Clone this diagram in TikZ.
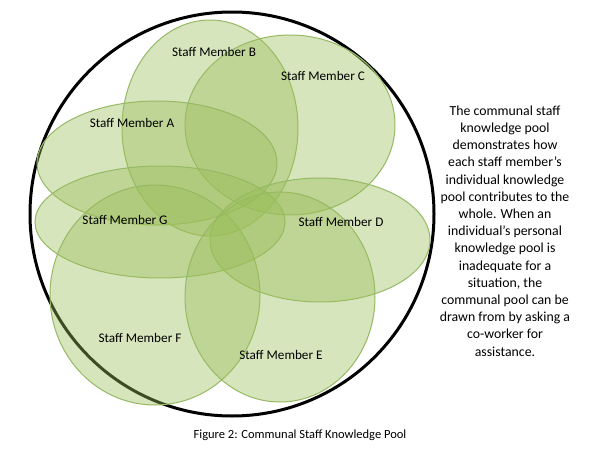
\documentclass[tikz,border=0pt]{standalone}
\usepackage{fontspec}
\setmainfont{Carlito}
\begin{document}
\begin{tikzpicture}[x=1pt,y=-1pt,
  pool/.style={fill={rgb,255:red,155;green,190;blue,90},fill opacity=0.4,draw={rgb,255:red,150;green,185;blue,100},line width=1pt},
  lbl/.style={font=\fontsize{13.2}{15}\selectfont,text=black}]
\useasboundingbox (0,0) rectangle (600,450);
\fill[white] (0,0) rectangle (600,450);
\node[draw=black,line width=3pt,circle,minimum size=404pt,inner sep=0pt] (pool) at (232,214) {};
\fill[pool] (210,128) ellipse [x radius=88,y radius=108];
\fill[pool] (290,125) ellipse [x radius=105,y radius=90];
\fill[pool] (157,163) ellipse [x radius=120,y radius=62];
\fill[pool] (320,240) ellipse [x radius=110,y radius=62];
\fill[pool] (160,222) ellipse [x radius=125,y radius=56];
\fill[pool] (155,295) ellipse [x radius=105,y radius=110];
\fill[pool] (280,297) ellipse [x radius=95,y radius=105];
\node[lbl] (b) at (214,52) {Staff Member B};
\node[lbl] (c) at (323,76) {Staff Member C};
\node[lbl] (a) at (132,123) {Staff Member A};
\node[lbl] (d) at (341,222) {Staff Member D};
\node[lbl] (g) at (125,220) {Staff Member G};
\node[lbl] (f) at (140,338) {Staff Member F};
\node[lbl] (e) at (281,355) {Staff Member E};
\node[align=center,font=\fontsize{13.8}{17.2}\selectfont] (txt) at (505,231) {The communal staff\\knowledge pool\\demonstrates how\\each staff member’s\\individual knowledge\\pool contributes to the\\whole. When an\\individual’s personal\\knowledge pool is\\inadequate for a\\situation, the\\communal pool can be\\drawn from by asking a\\co-worker for\\assistance.};
\node[font=\fontsize{12.5}{14}\selectfont] (cap) at (300,435) {Figure 2: Communal Staff Knowledge Pool};
\end{tikzpicture}
\end{document}
